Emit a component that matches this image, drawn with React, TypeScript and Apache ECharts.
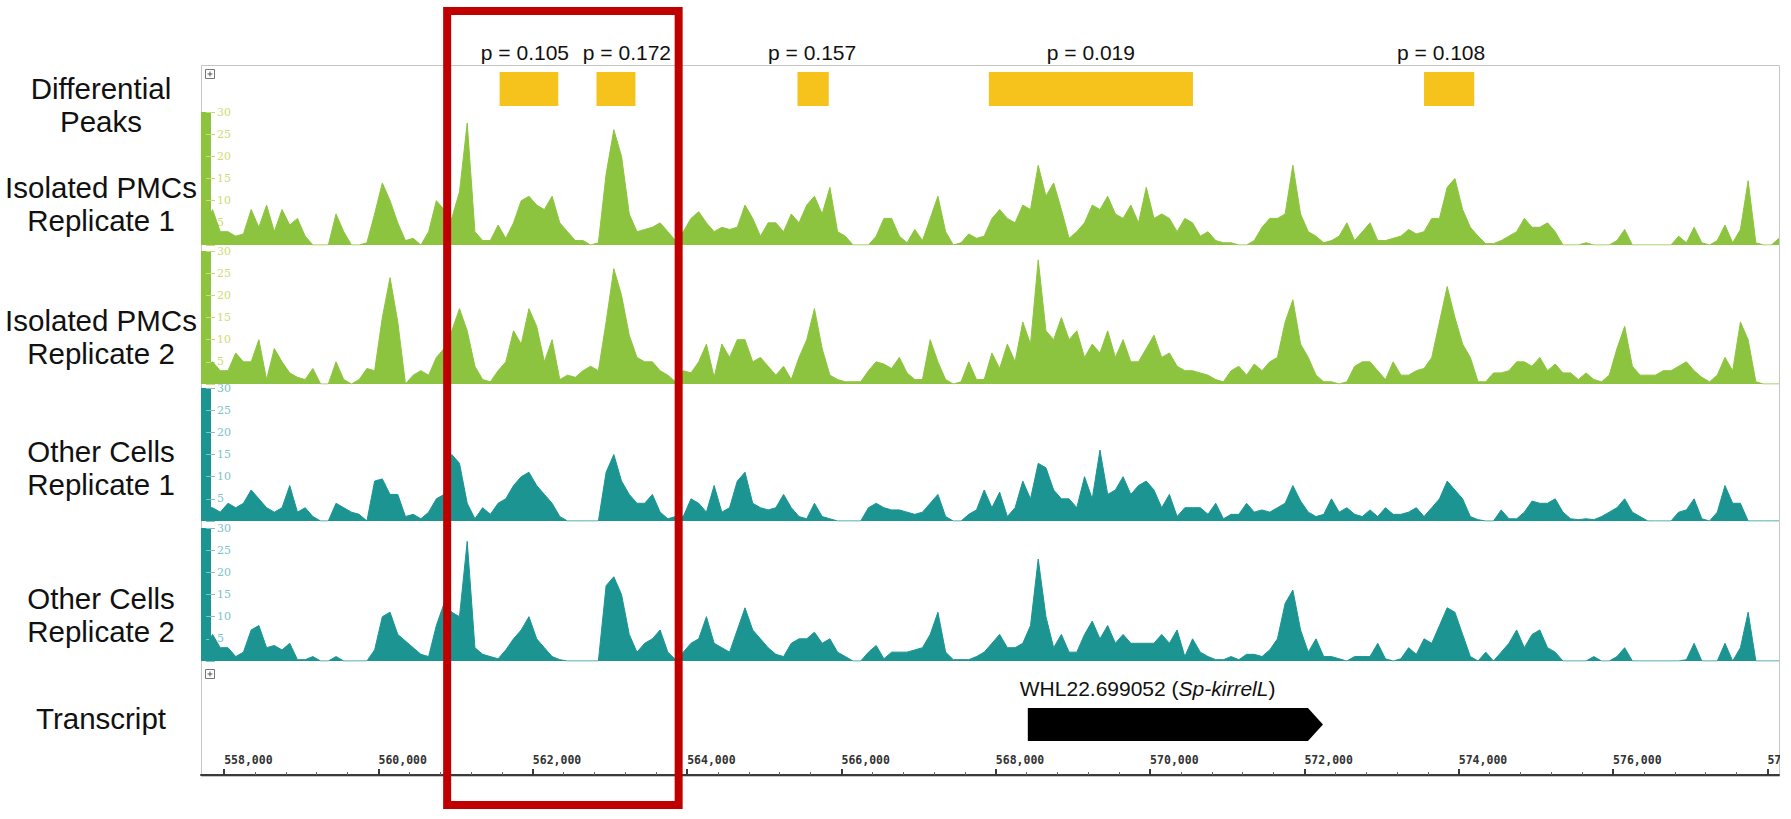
import React, { useEffect, useRef } from "react";
import * as echarts from "echarts";

// ---------- view ----------
const VIEW_START = 557700;
const VIEW_END = 578150;
const BIN_START = 557700;
const BIN_SIZE = 100;

// ---------- coverage tracks (100 bp bins from 557,700) ----------
const pmcRep1 = [
  4, 8, 3, 3, 2, 2.5, 8, 4, 9, 3,
  8, 4.5, 6, 2, 0, 0, 0, 7, 3, 0,
  0, 0.5, 7, 14, 10, 5, 1, 1.5, 0, 3,
  10, 8, 6, 12, 27.5, 3, 1, 1, 4.5, 1.5,
  5, 10, 11, 9, 8, 11, 5, 3, 1, 1,
  0, 0.5, 16, 26, 20, 7, 3, 3.5, 4, 5,
  3, 1, 3, 6, 7.5, 5, 3, 4, 3.5, 4,
  9, 6, 2, 5, 5, 3, 7, 5, 9, 11,
  7, 13, 3, 2, 0, 0, 0, 2, 6, 6,
  2, 0.5, 3.5, 1, 6, 11, 3, 0, 0.5, 2.5,
  1.5, 2, 6, 8, 6, 5, 9, 8, 18, 11,
  14, 8, 1.5, 3, 5, 9, 8, 11, 7, 6,
  9, 5, 13, 6, 7, 6, 3, 6, 5, 2,
  3, 1, 0.5, 0.5, 0, 0, 1, 4, 6, 6,
  7, 18, 7, 3, 2, 0.5, 1, 2, 5, 1,
  3, 5, 1, 1, 1.5, 2, 3.5, 2.5, 3, 6,
  6, 13, 15, 8, 4, 2, 0.3, 0.3, 1, 2,
  3, 6, 4, 4, 5, 3, 0, 0, 0, 0.5,
  0, 0, 0, 1, 3.5, 0, 0, 0, 0, 0,
  0, 2, 0.5, 4, 0.5, 0, 1, 4.5, 0.5, 3.5,
  14.5, 0.5, 0, 0, 1.5,
];
const pmcRep2 = [
  4, 5, 3, 3, 7, 5, 5, 10, 1, 8,
  5, 2.5, 1.5, 1, 3.5, 0, 0, 5, 1, 0,
  1, 3.5, 3, 15, 24, 14, 0, 2, 3, 2,
  6, 8, 12, 17, 12, 4, 1, 0.5, 3, 5,
  12, 9, 17, 13, 5, 10, 1, 2, 1.5, 3,
  4, 3, 14, 26, 20, 11, 6, 5, 5, 3,
  2, 0.5, 3, 2.5, 5, 9, 1.5, 9, 6, 10,
  10, 5, 6, 4, 2, 4, 1, 6, 10, 17,
  8, 2, 1, 0.5, 0.5, 0.5, 3, 5, 4.5, 3.5,
  6, 2.5, 1, 1, 10, 5, 1, 0, 0.5, 5,
  1, 1, 7, 3.5, 9, 5, 14, 9, 28, 12,
  10, 15, 10, 12, 6, 9, 7, 12, 6, 10,
  5, 5, 8, 11, 6, 7, 4, 3, 3, 2.5,
  2, 1, 0.5, 3, 4, 2, 4.5, 3, 5, 6,
  14, 19, 9, 6, 2, 0.5, 0.5, 0, 0.5, 4,
  5, 5, 3, 1, 5, 2, 2, 3, 3.5, 6,
  14, 22, 15, 9, 6, 0.5, 0.5, 2.5, 2.5, 3,
  5, 5, 4, 6, 3, 4.5, 2.5, 2.5, 1, 2.5,
  1, 0.5, 2, 8, 13, 4, 2, 2, 2, 3,
  3, 4, 5, 3, 1.5, 0.5, 2, 6, 3, 14,
  10, 0.5, 0, 0, 0,
];
const otherRep1 = [
  3, 3, 2, 4, 3, 4, 7, 5, 3, 2,
  3, 8, 2, 3, 1, 0, 0, 4, 3, 2,
  1.5, 0, 9, 9.5, 6, 6, 1, 1.5, 0.5, 2,
  5, 6, 15, 13, 4, 0.5, 3, 1.5, 4, 5,
  8, 10, 11, 8, 6, 4, 1, 0, 0, 0,
  0, 0, 11, 15, 9, 6, 4, 4, 6, 2,
  0.5, 1, 1, 5, 4, 2, 8, 2, 3, 9,
  11, 4, 3, 2.5, 3, 6, 3, 1, 0.5, 4,
  1, 0.5, 0, 0, 0, 0, 3, 4, 3, 2.5,
  2.5, 2, 1.5, 2, 4, 6, 1, 0, 0, 1.5,
  2.5, 7, 3, 6.5, 1, 3, 9, 5, 13, 12,
  7, 5, 5, 3, 10, 5, 16, 6, 7, 10,
  6, 8, 9, 7, 3, 6, 1, 3, 3, 3,
  1.5, 4, 0.5, 1.5, 1.5, 4, 2, 2.5, 2, 3,
  4, 8, 4.5, 2, 1, 1.5, 5, 2, 3, 1.5,
  1, 2.5, 1, 3, 1.5, 1.5, 2, 3, 1, 3,
  5, 9, 7, 5, 1, 0.3, 0, 0, 2.5, 0.5,
  0.5, 2, 4.5, 4, 4, 5, 2, 0.5, 0.3, 0.5,
  0.3, 1, 2, 3, 5, 2, 1, 0, 0, 0,
  0, 2, 2.5, 5, 0.5, 0, 2, 8, 4, 4,
  0, 0, 0, 0, 0,
];
const otherRep2 = [
  3, 6, 3, 3, 1, 2, 7, 8, 3, 3.5,
  2.5, 4, 0.3, 0.3, 1, 0, 0, 1, 0, 0,
  0, 0, 2.5, 10, 11, 6, 4.5, 3, 1.5, 1,
  8, 13, 11, 10, 27, 3, 1.5, 1, 0.5, 2.5,
  5, 7, 10, 5, 3, 1, 0.3, 0, 0, 0,
  0, 0, 17, 19, 15, 6, 2, 4, 5, 7,
  2, 0.3, 2, 4, 5, 10, 4, 3, 2, 7,
  12, 7, 5, 3, 1.5, 1, 4, 5, 5, 6.5,
  4, 5, 2, 1, 0, 0, 2, 3.5, 0.5, 2,
  2, 2, 2.5, 3, 6, 11, 2, 0.3, 0.3, 0.3,
  1, 2, 4, 6, 3, 3, 4, 8, 23, 10,
  3, 6, 2, 2, 6, 9, 5, 8, 4, 6,
  4, 4, 4, 4, 6, 4, 7, 1, 5, 2,
  1, 0.3, 0.3, 1, 0.3, 1.5, 1.5, 1, 2.5, 5,
  13, 16, 7, 2, 5, 1, 1, 0.5, 0, 1,
  1, 1, 4, 0.5, 0, 0.5, 3, 1.5, 5, 4,
  8, 12, 11, 6, 1, 0, 2, 0, 2, 4,
  7, 3, 6, 7, 3, 2, 0, 0, 0, 0,
  1, 0, 0, 1, 3, 0, 0, 0, 0, 0,
  0, 0, 0.3, 4, 0, 0, 0, 4, 0, 3,
  11, 0, 0, 0, 0,
];

// ---------- differential peaks ----------
const peakStarts = [561570, 562825, 565430, 567910, 573550];
const peakEnds = [562330, 563330, 565835, 570555, 574200];
const peakPValues = ["0.105", "0.172", "0.157", "0.019", "0.108"];

// ---------- transcript ----------
const geneStart = 568415;
const geneEnd = 572240;
const geneId = "WHL22.699052";
const geneSymbol = "Sp-kirrelL";

// ---------- ruler ----------
const rulerTicks = [558000, 560000, 562000, 564000, 566000, 568000, 570000, 572000, 574000, 576000, 578000];
const yTicks = [0, 5, 10, 15, 20, 25, 30];

// ---------- highlighted region ----------
const highlightRegion = [560890, 563890];

const trackTitles = [
  "Differential\nPeaks",
  "Isolated PMCs\nReplicate 1",
  "Isolated PMCs\nReplicate 2",
  "Other Cells\nReplicate 1",
  "Other Cells\nReplicate 2",
  "Transcript",
];

// ---------- layout / style ----------
const GREEN = "#8DC43F";
const GREEN_LABEL = "#cfdb72";
const TEAL = "#1C9592";
const TEAL_LABEL = "#7cc2c6";
const YELLOW = "#F5C31C";
const RED = "#C00000";
const GRID_LEFT = 201;
const GRID_RIGHT = 12;
const TRACK_TOPS = [112, 251, 388, 528];
const TRACK_H = 133;
const TITLE_Y = [105, 204, 337, 468, 615, 718];
const TITLE_X = 101;
const PEAK_LABEL_DX = [-4, 11, -1, 0, -8];

export default function App() {
  const ref = useRef<HTMLDivElement>(null);

  useEffect(() => {
    if (!ref.current) return;
    const chart = echarts.init(ref.current, undefined, { renderer: "svg" });

    const toPoints = (vals: number[]) => vals.map((v, i) => [BIN_START + i * BIN_SIZE + BIN_SIZE / 2, v]);
    const tracks = [
      { data: pmcRep1, color: GREEN, label: GREEN_LABEL },
      { data: pmcRep2, color: GREEN, label: GREEN_LABEL },
      { data: otherRep1, color: TEAL, label: TEAL_LABEL },
      { data: otherRep2, color: TEAL, label: TEAL_LABEL },
    ];

    const minorTicks: number[] = [];
    for (let v = rulerTicks[0] - 2000; v <= VIEW_END; v += 400) {
      if (v >= VIEW_START && rulerTicks.indexOf(v) < 0) minorTicks.push(v);
    }

    const gridBase = { left: GRID_LEFT, right: GRID_RIGHT, containLabel: false, outerBoundsMode: "none" };
    const grids: any[] = [
      { ...gridBase, top: 66, height: 46 },
      ...TRACK_TOPS.map((t) => ({ ...gridBase, top: t, height: TRACK_H })),
      { ...gridBase, top: 680, height: 62 },
      { ...gridBase, top: 742, height: 33 },
    ];

    const xAxes: any[] = grids.map((_, i) => ({
      gridIndex: i,
      type: "value",
      min: VIEW_START,
      max: VIEW_END,
      show: false,
    }));
    xAxes[6] = {
      gridIndex: 6,
      type: "value",
      min: VIEW_START,
      max: VIEW_END,
      position: "bottom",
      axisLine: { show: true, onZero: false, lineStyle: { color: "#3a3a3a", width: 2 } },
      axisTick: { show: true, inside: true, length: 6, customValues: rulerTicks, lineStyle: { color: "#3a3a3a", width: 2 } },
      axisLabel: {
        show: true,
        inside: true,
        customValues: rulerTicks,
        align: "left",
        margin: 9,
        color: "#333",
        fontFamily: "DejaVu Sans Mono",
        fontWeight: "bold",
        fontSize: 11.5,
        hideOverlap: false,
        formatter: (v: number) => v.toLocaleString("en-US"),
      },
      splitLine: { show: false },
    };
    xAxes.push({
      gridIndex: 6,
      type: "value",
      min: VIEW_START,
      max: VIEW_END,
      position: "bottom",
      axisLine: { show: false },
      axisTick: { show: true, inside: true, length: 3, customValues: minorTicks, lineStyle: { color: "#666", width: 1 } },
      axisLabel: { show: false },
      splitLine: { show: false },
    });

    const yAxes: any[] = [
      { gridIndex: 0, type: "value", min: 0, max: 1, show: false },
      ...tracks.map((t, i) => ({
        gridIndex: i + 1,
        type: "value",
        min: yTicks[0],
        max: yTicks[yTicks.length - 1],
        interval: yTicks[1] - yTicks[0],
        offset: -5,
        axisLine: { show: true, onZero: false, lineStyle: { color: t.color, width: 10, cap: "butt" } },
        axisTick: { show: true, inside: true, length: 9, lineStyle: { color: t.label, width: 1 } },
        axisLabel: {
          show: true,
          inside: true,
          margin: 11,
          color: t.label,
          fontSize: 11,
          fontFamily: "DejaVu Serif",
          formatter: (v: number) => (v === 0 ? "" : String(v)),
        },
        splitLine: { show: false },
      })),
      { gridIndex: 5, type: "value", min: 0, max: 1, show: false },
      { gridIndex: 6, type: "value", min: 0, max: 1, show: false },
    ];

    const series: any[] = [
      {
        type: "custom",
        xAxisIndex: 0,
        yAxisIndex: 0,
        data: peakStarts.map((s, i) => [s, peakEnds[i], i]),
        renderItem: (params: any, api: any) => {
          const s = api.coord([api.value(0), 0]);
          const e = api.coord([api.value(1), 0]);
          const cs = params.coordSys;
          const idx = api.value(2);
          return {
            type: "group",
            children: [
              { type: "rect", shape: { x: s[0], y: cs.y + 6, width: e[0] - s[0], height: 34 }, style: { fill: YELLOW } },
              {
                type: "text",
                style: {
                  text: "p = " + peakPValues[idx],
                  x: (s[0] + e[0]) / 2 + PEAK_LABEL_DX[idx],
                  y: cs.y - 14,
                  align: "center",
                  verticalAlign: "middle",
                  fontSize: 21,
                  fontFamily: "Liberation Sans",
                  fill: "#111",
                },
              },
            ],
          };
        },
      },
      ...tracks.map((t, i) => ({
        type: "line",
        xAxisIndex: i + 1,
        yAxisIndex: i + 1,
        data: toPoints(t.data),
        showSymbol: false,
        symbol: "none",
        lineStyle: { color: t.color, width: 1 },
        areaStyle: { color: t.color, opacity: 1 },
        itemStyle: { color: t.color },
        z: 3,
      })),
      {
        type: "custom",
        xAxisIndex: 5,
        yAxisIndex: 5,
        data: [[geneStart, geneEnd]],
        renderItem: (params: any, api: any) => {
          const s = api.coord([api.value(0), 0]);
          const e = api.coord([api.value(1), 0]);
          const cs = params.coordSys;
          const top = cs.y + 28;
          const h = 33;
          const tip = 15;
          return {
            type: "group",
            children: [
              {
                type: "polygon",
                shape: {
                  points: [
                    [s[0], top],
                    [e[0] - tip, top],
                    [e[0], top + h / 2],
                    [e[0] - tip, top + h],
                    [s[0], top + h],
                  ],
                },
                style: { fill: "#000" },
              },
              {
                type: "text",
                style: {
                  text: "{n|" + geneId + " (}{i|" + geneSymbol + "}{n|)}",
                  rich: {
                    n: { fontSize: 21, fontFamily: "Liberation Sans", fill: "#111", color: "#111" },
                    i: { fontSize: 21, fontFamily: "Liberation Sans", fontStyle: "italic", fill: "#111", color: "#111" },
                  },
                  x: s[0] - 8,
                  y: top - 20,
                  align: "left",
                  verticalAlign: "middle",
                },
              },
            ],
          };
        },
      },
    ];

    chart.setOption({
      animation: false,
      backgroundColor: "#fff",
      grid: grids,
      xAxis: xAxes,
      yAxis: yAxes,
      series,
    });

    const bx1 = chart.convertToPixel({ xAxisIndex: 6 }, highlightRegion[0]) as number;
    const bx2 = chart.convertToPixel({ xAxisIndex: 6 }, highlightRegion[1]) as number;
    const plotRight = chart.convertToPixel({ xAxisIndex: 6 }, VIEW_END) as number;

    const icon = (x: number, y: number, id: string) => ({
      type: "group",
      id,
      children: [
        { type: "rect", shape: { x: x - 4.5, y: y - 4.5, width: 9, height: 9 }, style: { fill: "#fff", stroke: "#777", lineWidth: 1 } },
        { type: "line", shape: { x1: x - 2.5, y1: y, x2: x + 2.5, y2: y }, style: { stroke: "#555", lineWidth: 1 } },
        { type: "line", shape: { x1: x, y1: y - 2.5, x2: x, y2: y + 2.5 }, style: { stroke: "#555", lineWidth: 1 } },
      ],
    });

    chart.setOption({
      graphic: [
        {
          type: "rect",
          id: "panel",
          z: 0,
          shape: { x: GRID_LEFT + 0.5, y: 65.5, width: plotRight - GRID_LEFT, height: 711 },
          style: { fill: "none", stroke: "#c6c6c6", lineWidth: 1 },
        },
        {
          type: "rect",
          id: "rulerClip",
          z: 50,
          shape: { x: plotRight + 1, y: 744, width: 40, height: 29 },
          style: { fill: "#fff" },
        },
        icon(210, 74, "icon1"),
        icon(210, 674, "icon2"),
        ...trackTitles.map((t, i) => ({
          type: "text",
          id: "title" + i,
          x: TITLE_X,
          y: TITLE_Y[i],
          style: {
            text: t,
            fontSize: 29.5,
            fontFamily: "Liberation Sans",
            fill: "#111",
            align: "center",
            verticalAlign: "middle",
            lineHeight: 33,
          },
        })),
        {
          type: "rect",
          id: "highlight",
          z: 100,
          shape: { x: bx1, y: 11, width: bx2 - bx1, height: 794 },
          style: { fill: "none", stroke: RED, lineWidth: 8 },
        },
      ],
    });

    return () => chart.dispose();
  }, []);

  return (
    <div
      ref={ref}
      style={{ position: "fixed", left: 0, top: 0, width: 1791, height: 819, background: "#fff" }}
    />
  );
}
